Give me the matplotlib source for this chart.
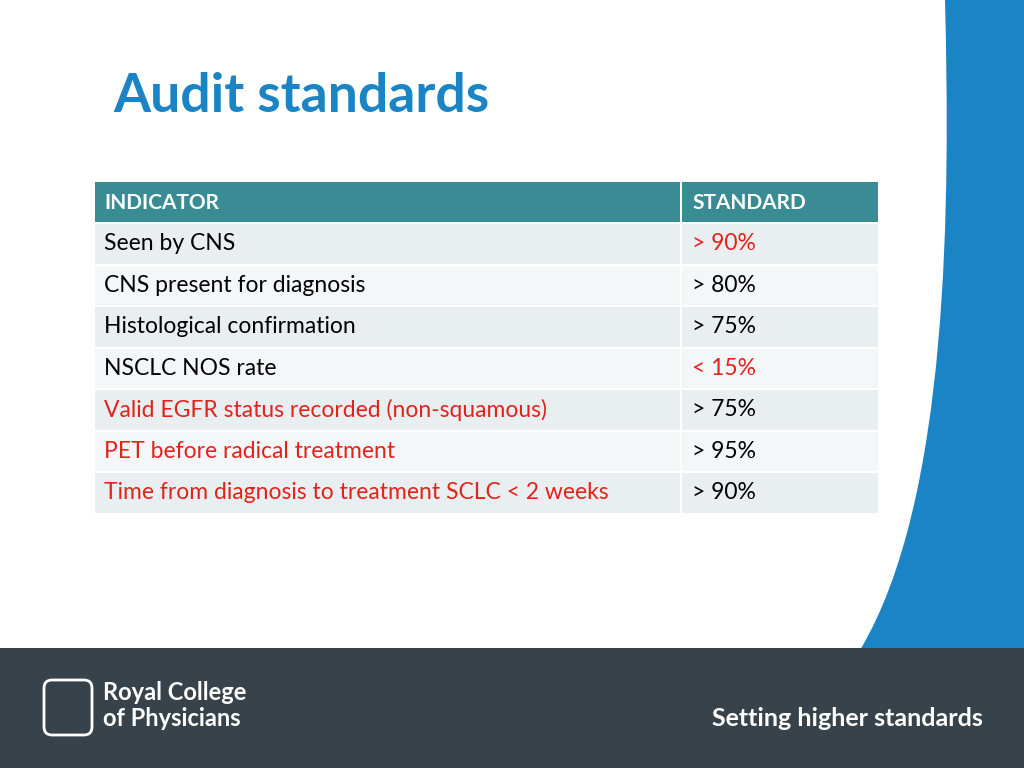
import matplotlib.pyplot as plt
import matplotlib.patches as patches
from matplotlib.path import Path

indicators = ["Seen by CNS", "CNS present for diagnosis", "Histological confirmation",
              "NSCLC NOS rate", "Valid EGFR status recorded (non-squamous)",
              "PET before radical treatment", "Time from diagnosis to treatment SCLC < 2 weeks"]
standards = ["> 90%", "> 80%", "> 75%", "< 15%", "> 75%", "> 95%", "> 90%"]
indicator_red = [False, False, False, False, True, True, True]
standard_red = [True, False, False, True, False, False, False]
headers = ["INDICATOR", "STANDARD"]

RED = "#e3231b"
BLUE = "#1b84c4"
TEAL = "#3a8c94"
plt.rcParams["font.family"] = "Lato"

fig = plt.figure(figsize=(10.24, 7.68), dpi=100)
ax = fig.add_axes([0, 0, 1, 1])
ax.set_xlim(0, 1024)
ax.set_ylim(768, 0)
ax.axis("off")

# right blue curved band
verts = [(945, 0), (1024, 0), (1024, 650), (860, 650),
         (950, 500), (950, 200), (945, 0), (945, 0)]
codes = [Path.MOVETO, Path.LINETO, Path.LINETO, Path.LINETO,
         Path.CURVE4, Path.CURVE4, Path.CURVE4, Path.CLOSEPOLY]
ax.add_patch(patches.PathPatch(Path(verts, codes), color=BLUE, lw=0))

# footer
ax.add_patch(patches.Rectangle((0, 648), 1024, 120, color="#37424a", lw=0))
ax.text(103, 693, "Royal College", color="white", fontsize=17, fontweight="bold", va="center")
ax.text(103, 719, "of Physicians", color="white", fontsize=17, fontweight="bold", va="center")
ax.add_patch(patches.FancyBboxPatch((44, 680), 48, 55, boxstyle="round,pad=0,rounding_size=8",
                                    fc="none", ec="white", lw=2))
ax.text(983, 718, "Setting higher standards", color="white", fontsize=18, fontweight="bold",
        va="center", ha="right")

# title
ax.text(113, 97, "Audit standards", color=BLUE, fontsize=38.5, fontweight="bold", va="center")

# table
x0, xs, x1 = 95, 681, 878
top, hh = 182, 40
rh = 41.5
fs = 16.5
ax.add_patch(patches.Rectangle((x0, top), xs - x0 - 1, hh, color=TEAL, lw=0))
ax.add_patch(patches.Rectangle((xs + 1, top), x1 - xs - 1, hh, color=TEAL, lw=0))
ax.text(x0 + 9, top + hh / 2 + 1, headers[0], color="white", fontsize=15, fontweight="bold", va="center")
ax.text(xs + 11, top + hh / 2 + 1, headers[1], color="white", fontsize=15, fontweight="bold", va="center")
for i, (ind, std) in enumerate(zip(indicators, standards)):
    y = top + hh + 1 + i * rh
    fc = "#e9eff1" if i % 2 == 0 else "#f4f7f8"
    ax.add_patch(patches.Rectangle((x0, y + 1), xs - x0 - 1, rh - 2, color=fc, lw=0))
    ax.add_patch(patches.Rectangle((xs + 1, y + 1), x1 - xs - 1, rh - 2, color=fc, lw=0))
    ax.text(x0 + 9, y + rh / 2, ind, color=RED if indicator_red[i] else "black",
            fontsize=fs, va="center")
    ax.text(xs + 11, y + rh / 2, std, color=RED if standard_red[i] else "black",
            fontsize=fs, va="center")

fig.savefig("out.png", dpi=100)
